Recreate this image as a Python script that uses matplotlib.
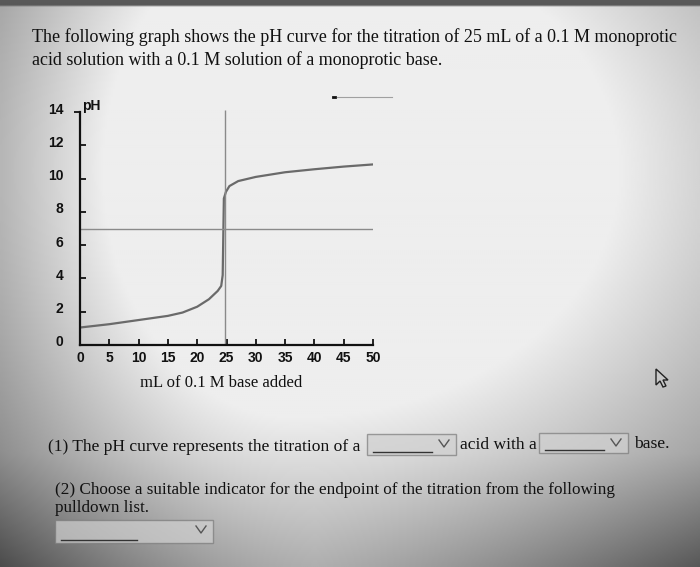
import numpy as np
import matplotlib
matplotlib.use('Agg')
import matplotlib.pyplot as plt
import matplotlib.lines as mlines
import matplotlib.transforms as mtransforms
from matplotlib.patches import Rectangle, Polygon

# curve (mL of base added, pH)
ml_added = [0, 5, 10, 15, 17.5, 20, 22, 23.5, 24.1, 24.35, 24.55, 24.9, 25.5, 27, 30, 35, 40, 45, 50]
ph_values = [1.05, 1.25, 1.5, 1.75, 1.95, 2.3, 2.75, 3.25, 3.55, 4.2, 8.8, 9.2, 9.55, 9.85, 10.1, 10.38, 10.56, 10.72, 10.85]
eq_volume = 24.7
neutral_ph = 7
x_ticks = [0, 5, 10, 15, 20, 25, 30, 35, 40, 45, 50]
y_ticks = [0, 2, 4, 6, 8, 10, 12, 14]

W, H = 700, 567
serif = ['Liberation Serif', 'DejaVu Serif']
sans = ['Liberation Sans', 'DejaVu Sans']
ink = '#111111'


def fx(px):
    return px / W


def fy(py):
    return 1 - py / H


fig = plt.figure(figsize=(7, 5.67), dpi=100)

# photo-like shaded background
bg = fig.add_axes([0, 0, 1, 1])
xx, yy = np.meshgrid(np.linspace(0, 1, 350), np.linspace(0, 1, 284))
dx = np.where(xx < 0.42, (xx - 0.42) / 0.5, (xx - 0.42) / 0.85)
dy = (yy - 0.3) / 0.8
r = np.sqrt(dx ** 2 + dy ** 2)
shade = 0.93 - 0.75 * np.clip(r - 0.55, 0, None) - 0.3 * np.clip((yy - 0.8) / 0.2, 0, 1) * np.abs(xx - 0.45)
shade[yy < 0.008] = 0.35
bg.imshow(shade, cmap='gray', vmin=0, vmax=1, extent=[0, 1, 0, 1],
          aspect='auto', origin='upper', interpolation='bilinear')
bg.set_axis_off()

# question header
fig.text(fx(32), fy(37), 'The following graph shows the pH curve for the titration of 25 mL of a 0.1 M monoprotic',
         family=serif, fontsize=13.0, color=ink, va='center')
fig.text(fx(32), fy(60), 'acid solution with a 0.1 M solution of a monoprotic base.',
         family=serif, fontsize=13.0, color=ink, va='center')

# chart
ax = fig.add_axes([fx(80), fy(345), (373 - 80) / W, (345 - 112) / H])
ax.patch.set_alpha(0)
ax.plot(ml_added, ph_values, color='#6a6a6a', lw=1.6, solid_capstyle='round')
ax.vlines(eq_volume, 0, 14.1, color='#8a8a8a', lw=1.0, clip_on=False)
ax.hlines(neutral_ph, 0, 50, color='#8a8a8a', lw=1.0)
ax.set_xlim(0, 50)
ax.set_ylim(0, 14)
for s in ['top', 'right']:
    ax.spines[s].set_visible(False)
for s in ['left', 'bottom']:
    ax.spines[s].set_linewidth(1.6)
    ax.spines[s].set_color(ink)
ax.set_xticks(x_ticks)
ax.set_yticks(y_ticks)
ax.tick_params(direction='in', length=4.5, width=1.3, color=ink, labelcolor=ink, labelsize=10)
ax.tick_params(axis='y', pad=12)
ax.tick_params(axis='x', pad=4)
for lab in ax.get_xticklabels() + ax.get_yticklabels():
    lab.set_family(sans)
    lab.set_weight('bold')
up = mtransforms.ScaledTranslation(0, 4 / 100, fig.dpi_scale_trans)
for lab in ax.get_yticklabels():
    lab.set_transform(lab.get_transform() + up)
ax.yaxis.get_major_ticks()[-1].tick1line.set_marker(mlines.TICKLEFT)
fig.text(fx(82), fy(106), 'pH', family=sans, fontsize=10, weight='bold', color=ink, va='center')
fig.text(fx(140), fy(383), 'mL of 0.1 M base added', family=serif, fontsize=12, color=ink, va='center')

# small stray mark top right of the graph
fig.add_artist(mlines.Line2D([fx(333), fx(335)], [fy(97), fy(97)], color=ink, lw=2))
fig.add_artist(mlines.Line2D([fx(337), fx(392)], [fy(97), fy(97)], color='#a0a0a0', lw=0.8))

# mouse pointer
cursor = [(656, 369), (656, 385), (660, 381), (663, 387), (666, 386), (663, 380), (668, 380)]
fig.add_artist(Polygon([(fx(a), fy(b)) for a, b in cursor], closed=True,
                       facecolor='#c8c8c8', edgecolor='#222222', lw=1.0))


def dropdown(x0, y0, x1, y1, ux1):
    fig.add_artist(Rectangle((fx(x0), fy(y1)), fx(x1) - fx(x0), fy(y0) - fy(y1),
                             facecolor='#d0d0d0', edgecolor='#7a7a7a', lw=1.0, alpha=0.7))
    fig.add_artist(mlines.Line2D([fx(x0 + 6), fx(ux1)], [fy(y1 - 3), fy(y1 - 3)], color='#333333', lw=1.0))
    cx = x1 - 12
    fig.add_artist(mlines.Line2D([fx(cx - 5), fx(cx), fx(cx + 5)], [fy(y0 + 6), fy(y0 + 13), fy(y0 + 6)],
                                 color='#555555', lw=1.0))


fig.text(fx(48), fy(447), '(1) The pH curve represents the titration of a',
         family=serif, fontsize=12.6, color=ink, va='center')
dropdown(367, 434, 456, 455, 432)
fig.text(fx(460), fy(445), 'acid with a', family=serif, fontsize=12.6, color=ink, va='center')
dropdown(539, 433, 628, 453, 604)
fig.text(fx(634), fy(444), 'base.', family=serif, fontsize=12.6, color=ink, va='center')

fig.text(fx(55), fy(490), '(2) Choose a suitable indicator for the endpoint of the titration from the following',
         family=serif, fontsize=12.3, color=ink, va='center')
fig.text(fx(55), fy(508), 'pulldown list.', family=serif, fontsize=12.3, color=ink, va='center')
dropdown(55, 520, 213, 543, 137)

fig.savefig('out.png', dpi=100)
